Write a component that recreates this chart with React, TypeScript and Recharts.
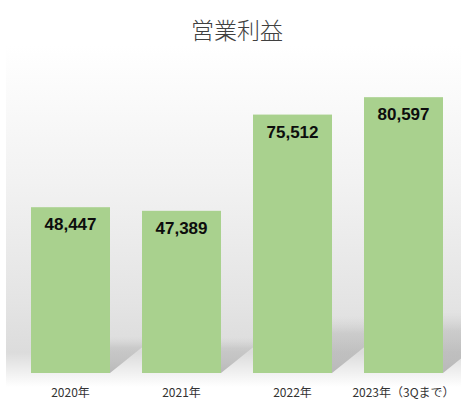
import React from 'react';
import { BarChart, Bar, XAxis, YAxis, LabelList } from 'recharts';

const CATEGORIES = ['2020年', '2021年', '2022年', '2023年（3Qまで）'];
const PROFIT = [48447, 47389, 75512, 80597];

const data = CATEGORIES.map((name, i) => ({ name, value: PROFIT[i] }));

// 棒の右奥に落ちる斜めの影（背景の端で切る）
const ShadowBar = (props: any) => {
  const { x, y, width, height, index } = props;
  const bottom = y + height;
  const right = x + width;
  const dx = Math.min(34, 461 - right);
  const hs = height * 0.22;
  const id = `shadow-${index}`;
  return (
    <g>
      <defs>
        <linearGradient id={id} x1="0" y1="1" x2="0" y2="0">
          <stop offset="0%" stopColor="#a0a0a0" stopOpacity={0.7} />
          <stop offset="70%" stopColor="#b4b4b4" stopOpacity={0.45} />
          <stop offset="100%" stopColor="#c8c8c8" stopOpacity={0} />
        </linearGradient>
      </defs>
      <polygon
        points={`${right},${bottom} ${right + dx},${bottom - dx * 0.8} ${right + dx},${bottom - hs} ${right},${bottom - hs}`}
        fill={`url(#${id})`}
      />
      <rect x={x} y={y} width={width} height={height} fill="#a9d18e" />
    </g>
  );
};

const App: React.FC = () => {
  return (
    <div
      style={{
        position: 'absolute',
        left: 0,
        top: 0,
        width: 474,
        height: 413,
        background: '#ffffff',
        overflow: 'hidden',
      }}
    >
      <div
        style={{
          position: 'absolute',
          left: 6,
          top: 45,
          width: 455,
          height: 342,
          background:
            'linear-gradient(to bottom, #ffffff 0%, #f2f2f2 40%, #e4e4e4 75%, #dcdcdc 90%, #ffffff 100%)',
        }}
      />
      <div
        style={{
          position: 'absolute',
          left: 0,
          top: 13,
          width: 474,
          textAlign: 'center',
          fontFamily: '"Noto Sans CJK JP", sans-serif',
          fontWeight: 300,
          fontSize: 23,
          lineHeight: '32px',
          color: '#404040',
        }}
      >
        営業利益
      </div>
      <div style={{ position: 'absolute', left: 0, top: 0 }}>
        <BarChart
          width={474}
          height={413}
          data={data}
          margin={{ top: 65, right: 15, bottom: 0, left: 15 }}
          barCategoryGap={16}
        >
          <XAxis
            dataKey="name"
            axisLine={false}
            tickLine={false}
            tickSize={0}
            tickMargin={15}
            height={40}
            interval={0}
            tick={{ fontSize: 12, fill: '#333333', fontFamily: '"Noto Sans CJK JP", sans-serif' }}
          />
          <YAxis hide domain={[0, 90000]} />
          <Bar dataKey="value" fill="#a9d18e" shape={<ShadowBar />} isAnimationActive={false}>
            <LabelList
              dataKey="value"
              position="insideTop"
              offset={11}
              formatter={(v: any) => Number(v).toLocaleString('en-US')}
              style={{
                fontSize: 17,
                fontWeight: 700,
                fill: '#0d0d0d',
                fontFamily: '"Liberation Sans", sans-serif',
              }}
            />
          </Bar>
        </BarChart>
      </div>
    </div>
  );
};

export default App;
